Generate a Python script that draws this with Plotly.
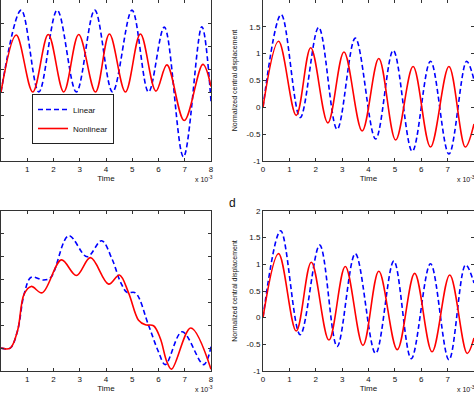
import plotly.graph_objects as go

# ---- data (time in units of 1e-3 s) ----
# panel a (top-left)
a_lin_t = [0, 0.77, 1.44, 2.14, 2.87, 3.57, 4.25, 4.99, 5.62, 6.22, 6.95, 7.65, 8.0]
a_lin_y = [0, 1.78, 0, 1.78, 0, 1.78, 0, 1.78, 0, 1.41, -1.41, 1.42, -0.2]
a_non_t = [0, 0.58, 1.21, 1.80, 2.39, 2.96, 3.60, 4.13, 4.74, 5.31, 5.90, 6.32, 6.98, 7.69, 8.0]
a_non_y = [0, 1.24, 0, 1.25, 0, 1.25, 0, 1.26, 0, 1.26, 0.02, 0.59, -0.62, 0.60, 0.12]

# panel b (top-right)
b_lin_t = [0, 0.69, 1.41, 2.11, 2.81, 3.50, 4.27, 4.94, 5.66, 6.35, 7.05, 7.72, 8.0]
b_lin_y = [0, 1.73, -0.19, 1.49, -0.41, 1.29, -0.59, 1.06, -0.82, 0.86, -0.87, 0.86, 0.51]
b_non_t = [0, 0.59, 1.26, 1.81, 2.46, 3.07, 3.76, 4.39, 5.03, 5.69, 6.35, 7.05, 7.67, 8.0]
b_non_y = [0, 1.23, -0.15, 1.11, -0.29, 1.03, -0.44, 0.91, -0.61, 0.76, -0.74, 0.76, -0.74, -0.31]

# panel c (bottom-left)
c_lin_t = [0, 0.35, 0.63, 0.88, 1.15, 1.62, 1.90, 2.58, 3.28, 3.83, 4.23, 4.55, 4.80, 5.12, 5.62, 6.00, 6.26, 6.90, 7.72, 8.0]
c_lin_y = [0, 0, 0.38, 1.18, 1.55, 1.49, 1.55, 2.46, 2.00, 2.35, 1.95, 1.45, 1.22, 1.21, 0.50, -0.08, -0.36, 0.36, -0.36, 0.03]
c_non_t = [0, 0.35, 0.63, 0.88, 1.15, 1.57, 2.30, 2.87, 3.41, 4.10, 4.51, 4.86, 5.24, 5.50, 5.81, 6.07, 6.32, 6.50, 7.23, 8.0]
c_non_y = [0, 0, 0.38, 1.18, 1.35, 1.21, 1.93, 1.59, 1.98, 1.40, 1.60, 1.21, 0.61, 0.51, 0.49, 0.21, -0.30, -0.46, 0.44, -0.46]

# panel d (bottom-right)
d_lin_t = [0, 0.67, 1.41, 2.15, 2.81, 3.50, 4.27, 4.96, 5.62, 6.35, 7.05, 7.68, 8.0]
d_lin_y = [0, 1.63, -0.32, 1.36, -0.54, 1.20, -0.67, 1.06, -0.77, 1.01, -0.79, 0.99, 0.65]
d_non_t = [0, 0.59, 1.26, 1.83, 2.50, 3.12, 3.79, 4.39, 5.09, 5.75, 6.41, 7.08, 7.74, 8.0]
d_non_y = [0, 1.20, -0.25, 1.04, -0.42, 0.96, -0.52, 0.87, -0.60, 0.83, -0.64, 0.80, -0.67, -0.38]

x_ticks = [0, 1, 2, 3, 4, 5, 6, 7, 8]
y_ticks_right = [-1, -0.5, 0, 0.5, 1, 1.5, 2]
y_ticks_right_text = ["-1", "-0.5", "0", "0.5", "1", "1.5", "2"]

SCALE = 1e-3
W, H = 474, 397
FONT = "Liberation Sans, Arial, sans-serif"

panels = [
    (a_lin_t, a_lin_y, a_non_t, a_non_y),
    (b_lin_t, b_lin_y, b_non_t, b_non_y),
    (c_lin_t, c_lin_y, c_non_t, c_non_y),
    (d_lin_t, d_lin_y, d_non_t, d_non_y),
]

fig = go.Figure()
for i, (lt, ly, nt, ny) in enumerate(panels):
    ax = "" if i == 0 else str(i + 1)
    fig.add_trace(go.Scatter(
        x=[v * SCALE for v in lt], y=ly, mode="lines", name="Linear",
        line=dict(color="#0000ff", width=1.6, dash="5px,3px", shape="spline"),
        xaxis="x" + ax, yaxis="y" + ax, showlegend=(i == 0)))
    fig.add_trace(go.Scatter(
        x=[v * SCALE for v in nt], y=ny, mode="lines", name="Nonlinear",
        line=dict(color="#ff0000", width=1.6, shape="spline"),
        xaxis="x" + ax, yaxis="y" + ax, showlegend=(i == 0)))

top_dom = [1 - 161 / H, 1.0]
bot_dom = [1 - 371 / H, 1 - 211 / H]
left_dom = [1.0 / W, 211 / W]
right_dom = [263 / W, 1.0]

axis_common = dict(showline=True, linecolor="#333", linewidth=1, mirror="ticks",
                   ticks="inside", ticklen=3, tickcolor="#333", showgrid=False,
                   zeroline=False, automargin=False,
                   tickfont=dict(family=FONT, size=8, color="#111"))

def xax(dom, anchor):
    return dict(axis_common, domain=dom, anchor=anchor, range=[0, 8 * SCALE],
                tickmode="array", tickvals=[v * SCALE for v in x_ticks],
                ticktext=[str(v) for v in x_ticks],
                title=dict(text="Time", font=dict(family=FONT, size=8, color="#111"), standoff=2))

def yax(dom, anchor, rng, vals, texts, title=None, labels=True):
    d = dict(axis_common, domain=dom, anchor=anchor, range=rng,
             tickmode="array", tickvals=vals, ticktext=texts, showticklabels=labels)
    if title:
        d["title"] = dict(text=title, font=dict(family=FONT, size=7, color="#111"), standoff=8)
    return d

ylab = "Normalized central displacement"
fig.update_layout(
    width=W, height=H, margin=dict(l=0, r=0, t=0, b=0),
    template="none", paper_bgcolor="white", plot_bgcolor="white",
    font=dict(family=FONT, size=8, color="#111"),
    xaxis=xax(left_dom, "y"),
    yaxis=yax(top_dom, "x", [-1.5, 2], [-1.5, -1, -0.5, 0, 0.5, 1, 1.5, 2],
              ["-1.5", "-1", "-0.5", "0", "0.5", "1", "1.5", "2"], labels=False),
    xaxis2=xax(right_dom, "y2"),
    yaxis2=yax(top_dom, "x2", [-1, 2], y_ticks_right, y_ticks_right_text, ylab),
    xaxis3=xax(left_dom, "y3"),
    yaxis3=yax(bot_dom, "x3", [-0.5, 3], [-0.5, 0, 0.5, 1, 1.5, 2, 2.5, 3],
               ["-0.5", "0", "0.5", "1", "1.5", "2", "2.5", "3"], labels=False),
    xaxis4=xax(right_dom, "y4"),
    yaxis4=yax(bot_dom, "x4", [-1, 2], y_ticks_right, y_ticks_right_text, ylab),
    legend=dict(x=73 / W, y=1 - 119 / H, xanchor="center", yanchor="middle",
                bgcolor="white", bordercolor="#222", borderwidth=1,
                font=dict(family=FONT, size=8, color="#111"), itemwidth=30,
                tracegroupgap=0),
    showlegend=True,
)

ann = []
for xl, yb in [(193 / W, 1 - 179 / H), (455 / W, 1 - 179 / H),
               (193 / W, 1 - 389 / H), (455 / W, 1 - 389 / H)]:
    ann.append(dict(text="x 10<sup>-3</sup>", x=xl, y=yb, xref="paper", yref="paper",
                    xanchor="left", yanchor="middle", showarrow=False,
                    font=dict(family=FONT, size=7, color="#111")))
ann.append(dict(text="d", x=232 / W, y=1 - 203 / H, xref="paper", yref="paper",
                xanchor="center", yanchor="middle", showarrow=False,
                font=dict(family=FONT, size=12, color="#111")))
fig.update_layout(annotations=ann)

fig.write_html("out.html", config={"displayModeBar": False},
               post_script="document.body.style.margin='0';document.body.style.overflow='hidden';")
